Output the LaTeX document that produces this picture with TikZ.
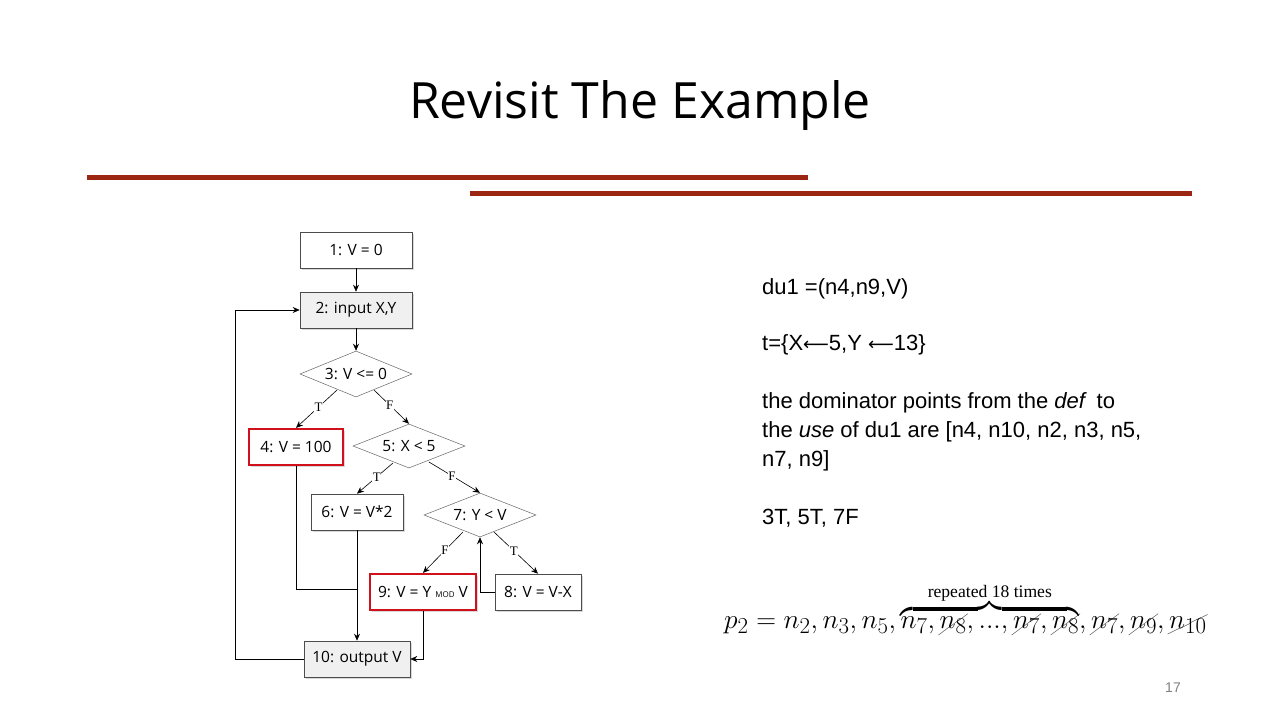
\documentclass[tikz,border=0pt]{standalone}
\usepackage{fontspec}
\usepackage{amsmath}
\usepackage{cancel}
\setmainfont{Liberation Sans}
\newfontfamily\titlefont{Open Sans}
\newfontfamily\nodefont{Open Sans}
\newfontfamily\serifx{Liberation Serif}
\newfontfamily\dejavu{DejaVu Sans}
\usetikzlibrary{shapes.geometric,arrows.meta,shadows}
\definecolor{barred}{HTML}{9B2612}
\definecolor{boxred}{HTML}{D0101A}
\tikzset{
 box/.style={draw=black!70,line width=0.6pt,fill=white,minimum height=36pt,inner sep=2pt,font=\nodefont\fontsize{15.5}{17}\selectfont,drop shadow={shadow xshift=2pt,shadow yshift=-2pt,opacity=0.3}},
 gbox/.style={box,fill=black!6},
 rbox/.style={box,draw=boxred,line width=2.2pt},
 dia/.style={diamond,aspect=2.4,draw=black!60,line width=0.5pt,fill=white,inner sep=0pt,font=\nodefont\fontsize{15.5}{17}\selectfont},
 arr/.style={-{Stealth[length=7pt,width=6pt]},line width=0.6pt},
 ln/.style={line width=0.6pt},
 lab/.style={font=\serifx\fontsize{13}{14}\selectfont,fill=white,inner sep=0.5pt},
 txt/.style={anchor=west,inner sep=0pt,font=\fontsize{22}{29}\selectfont,align=left}
}
\begin{document}
\begin{tikzpicture}[x=1pt,y=-1pt]
\useasboundingbox (0,0) rectangle (1280,720);
\fill[white] (0,0) rectangle (1280,720);
\node[font=\titlefont\fontsize{50}{54}\selectfont] (title) at (640,106) {Revisit The Example};
\draw[barred,line width=5pt] (87,177) -- (808,177);
\draw[barred,line width=5pt] (470,193) -- (1192,193);

\node[box,minimum width=112pt] (n1) at (356,250) {1: V = 0};
\node[gbox,minimum width=112pt] (n2) at (356,310) {2: input X,Y};
\node[dia,minimum width=112pt,minimum height=46pt] (n3) at (356,374) {3: V <= 0};
\node[rbox,minimum width=94pt] (n4) at (296,447) {4: V = 100};
\node[dia,minimum width=112pt,minimum height=44pt] (n5) at (409,446) {5: X < 5};
\node[box,minimum width=92pt] (n6) at (357,512) {6: V = V*2};
\node[dia,minimum width=112pt,minimum height=44pt] (n7) at (480,515) {7: Y < V};
\node[rbox,minimum width=106pt,inner sep=1pt] (n9) at (423,592) {9: V = Y {\fontsize{8}{9}\selectfont MOD} V};
\node[box,minimum width=86pt] (n8) at (538,592) {8: V = V-X};
\node[gbox,minimum width=106pt] (n10) at (357,659) {10: output V};

\draw[arr] (n1) -- (n2);
\draw[arr] (n2) -- (n3);
\draw[arr] (337,390) -- node[lab,pos=0.45]{T} (n4.north);
\draw[arr] (374,390) -- node[lab,pos=0.45]{F} (n5.north);
\draw[arr] (393,463) -- node[lab,pos=0.45]{T} (n6.north);
\draw[arr] (429,462) -- node[lab,pos=0.45]{F} (n7.north);
\draw[arr] (463,532) -- node[lab,pos=0.45]{F} (n9.north);
\draw[arr] (494,532) -- node[lab,pos=0.45]{T} (n8.north);
\draw[arr] (n8.west) -| (n7.south);
\draw[ln] (n4.south) |- (357,589);
\draw[arr] (n6.south) -- (n10.north);
\draw[arr] (n9.south) |- (n10.east);
\draw[arr] (n10.west) -- (235,659) -- (235,310) -- (n2.west);

\node[txt] (t1) at (762,289) {du1 =(n4,n9,V)};
\node[txt] (t2) at (762,345) {t=\{X{\dejavu\fontsize{18}{20}\selectfont ⟵}5,Y {\dejavu\fontsize{18}{20}\selectfont ⟵}13\}};
\node[txt] (t3) at (762,432) {the dominator points from the \textit{def}\, to\\the \textit{use} of du1 are [n4, n10, n2, n3, n5,\\n7, n9]};
\node[txt] (t4) at (762,518) {3T, 5T, 7F};
\node[anchor=west,inner sep=0pt,font=\fontsize{29.5}{32}\selectfont,scale=1.1,transform shape] (f) at (724,608)
 {$p_2=n_2,n_3,n_5,\overbrace{n_7,\cancel{n_8},...,\cancel{n_7},\cancel{n_8}}^{\text{\serifx\fontsize{16}{18}\selectfont repeated 18 times}},\cancel{n_7},\cancel{n_9},\cancel{n_{10}}$};
\node[font=\fontsize{14}{16}\selectfont,text=black!50] (pg) at (1173,688) {17};
\end{tikzpicture}
\end{document}
